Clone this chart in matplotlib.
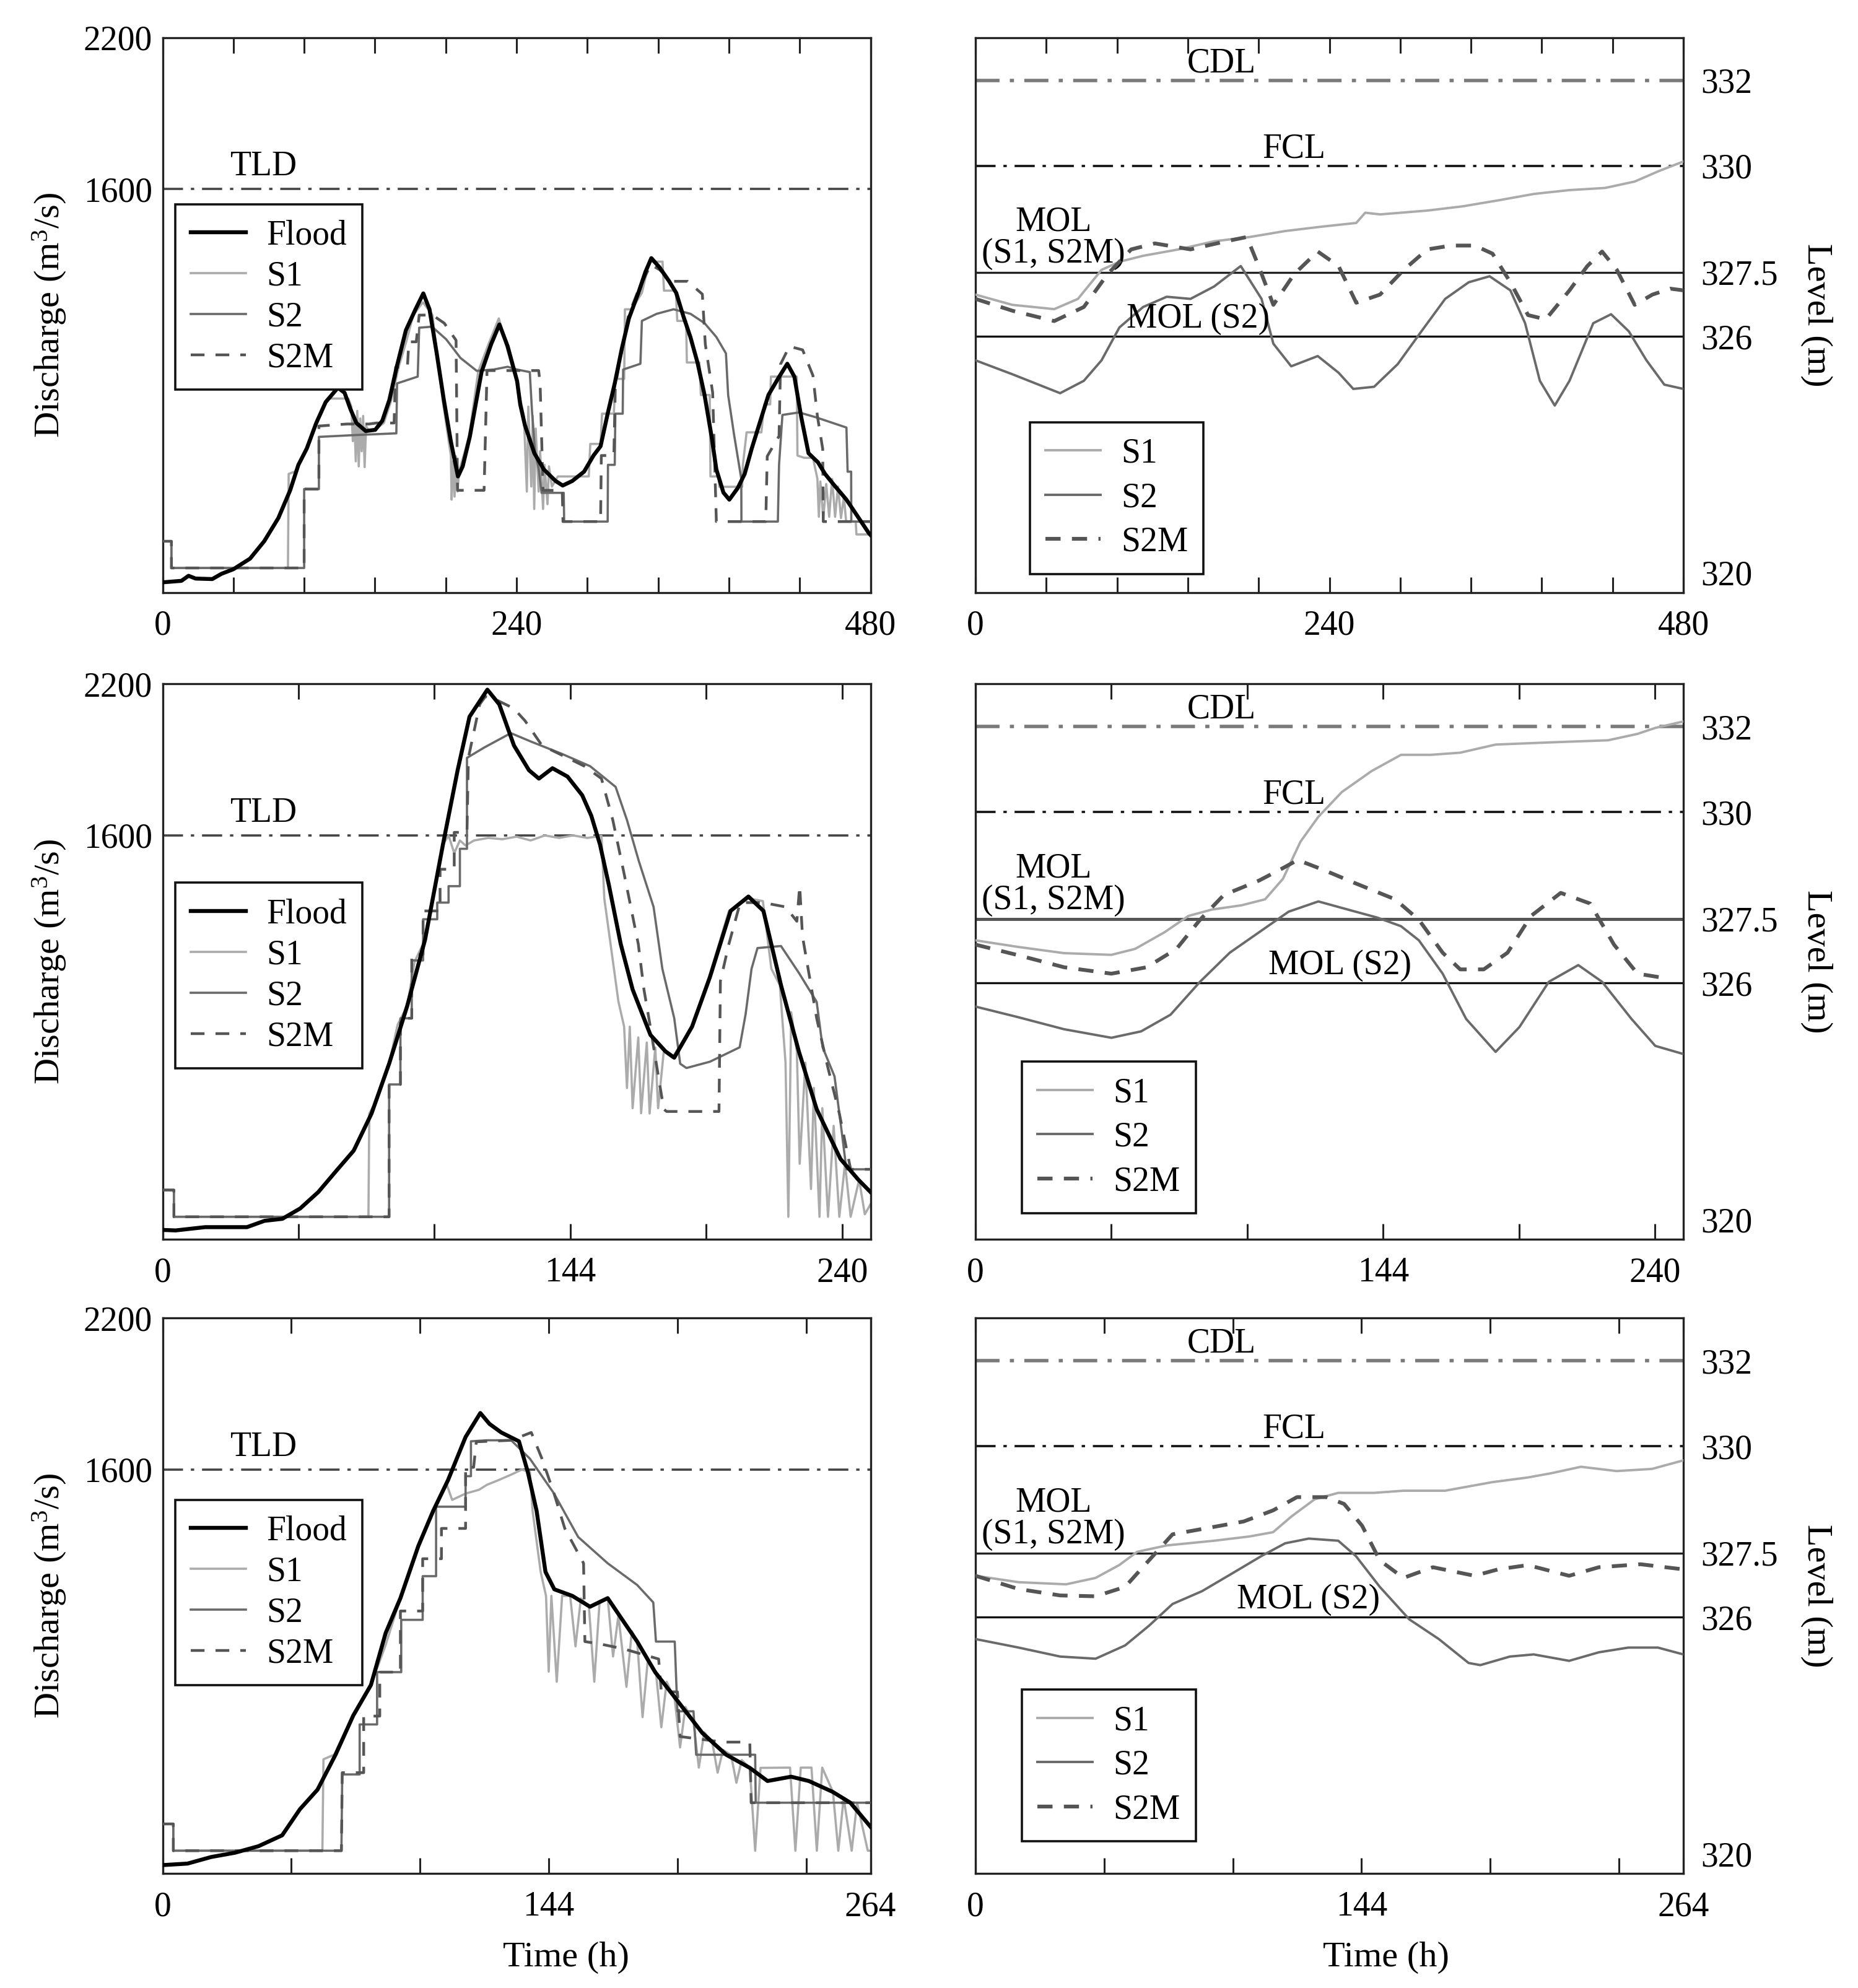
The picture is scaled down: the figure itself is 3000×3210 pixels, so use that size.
import matplotlib
matplotlib.use('Agg')
import matplotlib.pyplot as plt

plt.rcParams['font.family'] = ['Liberation Serif', 'DejaVu Serif']
plt.rcParams['mathtext.fontset'] = 'custom'
plt.rcParams['mathtext.rm'] = 'Liberation Serif'
plt.rcParams['mathtext.it'] = 'Liberation Serif:italic'

# ---------------- data: discharge (t [h], Q [m3/s]) ----------------
flood1 = [(0,40),(12.8,46),(17.6,66),(22.4,55),(33.7,53),(40,74),(48,92),(59.3,134),(68.9,203),(78.5,295),
          (86.5,405),(92.1,506),(97.8,571),(104.2,672),(110.6,755),(118.9,812),(123.4,792),(127.4,727),(131.4,672),(137.8,640),
          (144.2,645),(149,681),(153.8,764),(158.7,893),(165,1040),(171.5,1123),(176.8,1186),(181,1123),(185.9,948),(190.7,764),
          (195.5,598),(200.3,460),(203.5,500),(208.3,617),(216.3,875),(222.8,985),(228.4,1063),(234,976),(240.4,838),(242.5,746),
          (245.7,663),(252.1,552),(258.5,488),(266.5,442),(271.3,424),(277.8,442),(285.8,479),(292.2,543),(297,580),(301.8,709),
          (306.6,829),(311.4,967),(316.2,1087),(322.6,1188),(327.4,1271),(331.4,1326),(337,1289),(343.5,1234),(348.3,1188),(353.1,1096),
          (357.9,1013),(362.7,912),(367.5,783),(372.3,617),(375.5,488),(380.3,396),(384.3,368),(390,414),(394.7,470),(399.5,571),
          (404.4,663),(410.8,783),(417.2,847),(423.6,907),(428.4,856),(433.2,691),(438,552),(444.4,516),(449.2,470),(455.6,424),
          (463.7,368),(470,313),(478.9,235),(480,228)]
s1_1 = [(0,203),(6,203),(6,97),(85,97),(85.5,470),(90,480),(95,540),(100,600),(105,680),(112,769),(126,769),(128,737),
        (129,600),(130,700),(131,520),(132,720),(133,500),(134,690),(135,560),(136,700),(137,497),(138,660),(140,640),(145,650),
        (150,672),(155,760),(160,893),(165,990),(170,1100),(176.5,1151),(183,1100),(186,950),(190,760),(194,600),(195.5,543),
        (196,368),(197,520),(198,380),(199,540),(200,400),(201,480),(205,560),(208,626),(214,875),(221,985),(228,1087),(234,958),
        (240,838),(245,700),(247,400),(248,737),(250,420),(251,700),(252,331),(253,650),(255,400),(256,560),(258,331),(259,506),
        (261,350),(262,500),(264,420),(268,460),(289,460),(290,589),(297,589),(298,709),(306,709),(307,847),(313,847),(313.5,1123),
        (318,1123),(325,1188),(330,1312),(339,1312),(340,1197),(348,1197),(349,1077),(355,1077),(355.5,912),(364,912),(365,783),
        (371,783),(371.5,460),(377,460),(377.5,419),(393,419),(393.5,506),(396,635),(406,635),(408,746),(412,746),(412.5,856),
        (430,856),(430.5,543),(435,534),(441,534),(444,451),(445,300),(446,440),(448,295),(450,430),(452,300),(454,450),
        (456,300),(458,420),(460,295),(462,380),(463.5,281),(470,281),(470.5,230),(480,230)]
s2_1 = [(0,203),(6,203),(6,97),(96,97),(96,410),(106,410),(106,617),(130,624),(158.5,631),(159,829),(173,856),(174,1050),
        (182.7,1054),(192.3,1004),(202,930),(213,879),(224.4,884),(234,895),(240.4,884),(249,874),(250.5,718),(252.5,562),
        (255,490),(257,395),(272,395),(272.3,281),(301.8,281),(302,506),(306.6,506),(307,709),(312,709),(312.3,884),(324,907),
        (325,1077),(335,1105),(346.5,1123),(358,1105),(367.5,1068),(375.5,1013),(382,948),(383.5,783),(387.5,626),(392.4,451),
        (392.5,281),(417.2,281),(418,506),(420.3,704),(431.6,714),(442.8,695),(463.7,654),(464.5,479),(466.9,479),(467,281),(480,281)]
s2m_1 = [(0,203),(6,203),(6,97),(96,97),(96,410),(106,410),(106,660),(125,668),(140,668),(145,672),(157,672),(158,893),
         (166,893),(167,994),(172,994),(174,1100),(183,1100),(191,1068),(199,1000),(200,405),(218,405),(220,880),(255,880),
         (256,829),(258,405),(271,405),(271.5,281),(297,281),(297.5,543),(306,543),(307,820),(312,980),(316,1100),(322,1190),
         (331,1300),(337,1280),(345,1234),(356,1234),(366,1183),(368,985),(373,792),(375.5,281),(409,281),(410,540),(418,620),
         (419,905),(425,976),(434,962),(441,860),(444,700),(447.6,570),(448,281),(480,281)]

flood2 = [(0,38),(4.6,36),(15,49),(29.8,49),(36,74),(42.3,82),(48.6,123),(55,188),(61.2,270),(67.5,352),(73.8,499),
          (80,696),(86.4,925),(92.7,1187),(99,1563),(104.2,1858),(108.4,2070),(114.7,2177),(118.9,2119),(124.1,1956),(129.4,1858),
          (132.9,1825),(137.7,1866),(143,1833),(148.2,1759),(151.4,1678),(154.5,1563),(157.7,1399),(161.8,1170),(166,990),
          (172.3,810),(177.6,745),(180.7,720),(187,843),(193.3,1039),(200.6,1301),(206.9,1358),(212.2,1301),(218.4,1007),
          (224.7,745),(231,516),(239.4,319),(245.7,237),(250,188)]
s1_2 = [(0,196),(4,196),(4,90),(72.7,90),(73,499),(76,560),(80,696),(83,850),(86.4,925),(89,1100),(92.7,1187),(96,1380),
        (99,1563),(101,1600),(103,1530),(105,1580),(107,1560),(110,1580),(115,1590),(120,1585),(125,1595),(130,1580),(135,1600),
        (140,1590),(145,1600),(150,1590),(155,1598),(156,1350),(159,1105),(161,941),(163,843),(164,600),(165,843),(166,520),
        (168,800),(169,500),(171,780),(172,499),(174,760),(175,520),(177,745),(180,720),(187,843),(193,1039),(200,1301),
        (207,1350),(212,1340),(215,1072),(218,1007),(220,700),(221,90),(222,900),(224,745),(225,300),(227,700),(229,200),
        (230,600),(232,90),(233,520),(235,90),(237,450),(239,90),(241,300),(243,90),(246,237),(248,100),(250,139)]
s2_2 = [(0,196),(4,196),(4,90),(80,90),(80,614),(84,614),(84,876),(88,876),(88,1105),(92,1105),(92,1268),(97,1268),
        (97,1334),(101,1334),(101,1399),(105,1399),(105,1547),(107.5,1547),(107.5,1907),(113.6,1948),(123,2005),(130,1972),
        (141,1923),(151,1874),(160,1792),(164,1661),(168.2,1498),(173.4,1317),(176.5,1072),(180.7,876),(182.8,696),(185,679),
        (193.3,704),(203.8,761),(205.9,892),(208,1072),(210.1,1154),(218.4,1162),(224.7,1056),(231,941),(233.1,761),
        (237.3,646),(239.4,466),(241.5,278),(250,278)]
s2m_2 = [(0,196),(4,196),(4,90),(80,90),(80,614),(84,614),(84,876),(88,876),(88,1128),(92,1128),(92,1301),(98,1301),
         (98,1466),(103,1466),(103,1612),(107.5,1612),(108,1907),(112,2119),(114,2150),(118,2136),(124,2103),(128,2054),
         (134,1956),(143,1907),(149,1874),(155,1825),(159,1661),(163,1448),(168,1170),(170,990),(172,859),(177,516),(178,507),
         (196.5,507),(197,1023),(200,1170),(204,1334),(212,1334),(220,1317),(224,1260),(225,1400),(226,1200),(231,876),
         (235,679),(239,499),(243,278),(250,278)]

flood3 = [(0,34),(9.3,40),(18.1,66),(27,83),(35.8,109),(44.6,152),(51.2,255),(57.8,333),(64.5,471),(71.1,626),(77.7,747),
          (83.2,953),(88.7,1091),(95.4,1298),(100.9,1436),(106.4,1557),(113,1729),(118.5,1824),(121.9,1781),(126.3,1747),
          (132.9,1712),(136.2,1591),(139.5,1436),(142.8,1195),(146.1,1126),(152.8,1100),(159.4,1057),(166,1091),(170.4,1022),
          (177,919),(183.7,798),(192.5,678),(201.3,557),(210.2,471),(219,419),(225.6,367),(234.4,384),(241,367),(249.9,324),
          (256.5,281),(264,186)]
s1_3 = [(0,197),(4,197),(4,91),(59.6,91),(60,453),(64,471),(71,626),(77.7,747),(83,900),(88.7,1091),(95.4,1290),(101,1436),
        (106,1540),(108,1480),(113,1505),(118,1520),(121,1540),(125,1557),(130,1580),(134,1600),(137,1590),(138,1436),(141,1195),
        (143,1100),(144,800),(145,1100),(147,760),(149,1100),(152,1100),(154,900),(156,1090),(159,1057),(161,760),(163,1080),
        (166,1091),(168,860),(170,1022),(173,740),(175,960),(177,919),(179,620),(181,850),(184,798),(186,580),(188,760),
        (191,690),(193,500),(195,660),(198,600),(200,420),(202,560),(205,520),(207,400),(209,490),(212,470),(214,360),
        (216,450),(219,419),(221,91),(223,419),(234,420),(236,91),(238,420),(242,420),(244,91),(246,420),(250,324),(252,91),
        (254,300),(257,91),(259,281),(263,91),(264,91)]
s2_3 = [(0,197),(4,197),(4,91),(66.7,91),(67,393),(73.5,393),(73.5,591),(80,591),(80,798),(89,798),(89,1005),(97,1005),
        (97,1178),(102,1178),(102,1453),(113,1453),(113,1574),(115,1574),(115,1712),(121,1716),(130,1716),(137,1643),(146,1505),
        (155,1333),(166,1229),(177,1143),(183,1074),(184,919),(191,919),(192,643),(198,643),(199,471),(221,471),(221.2,281),(264,281)]
s2m_3 = [(0,197),(4,197),(4,91),(66.7,91),(67,400),(75,400),(75,624),(81,624),(81,798),(88.7,798),(88.7,1040),(97,1040),
         (97,1247),(104,1247),(104,1367),(113,1367),(113,1609),(116,1609),(117,1710),(130,1716),(137.5,1747),(141.5,1643),
         (146,1505),(150,1367),(157,1229),(157.5,919),(163,910),(172,890),(185,850),(186,720),(192,720),(193,543),(209,521),
         (219,521),(219.5,281),(264,281)]

# ---------------- data: reservoir level (t [h], Z [m]) ----------------
lev1_s1 = [(0,326.98),(25,326.74),(53.4,326.64),(69.5,326.88),(85.5,327.56),(97.6,327.75),(113.7,327.89),(137.8,328.04),
           (161.8,328.23),(185.9,328.33),(210,328.47),(234,328.57),(258.2,328.66),(264.3,328.9),(274.3,328.86),(306.4,328.95),
           (330.5,329.05),(354.6,329.19),(378.7,329.34),(402.8,329.43),(426.9,329.48),(447,329.63),(463,329.87),(480,330.1)]
lev1_s2 = [(0,325.44),(25.3,325.11),(57.4,324.67),(73.5,324.96),(85.5,325.44),(97.6,326.21),(113.7,326.69),(129.7,326.93),
           (145.8,326.88),(161.8,327.17),(179.9,327.65),(194,326.88),(202,325.83),(214.1,325.3),(232.1,325.54),(246.2,325.15),
           (256.2,324.77),(270.3,324.82),(286.3,325.35),(302.4,326.12),(318.5,326.88),(334.5,327.27),(348.6,327.41),
           (362.7,327.08),(372.7,326.31),(382.7,324.96),(392.8,324.38),(402.8,324.96),(418.9,326.31),(431,326.52),
           (443,326.12),(455,325.44),(467.1,324.87),(480,324.77)]
lev1_s2m = [(0,326.88),(25.3,326.6),(53.4,326.36),(73.5,326.69),(89.6,327.46),(105.6,328.04),(121.7,328.18),(145.8,328.04),
            (169.9,328.23),(184,328.33),(192,327.65),(202,326.74),(216.1,327.46),(232.1,327.99),(246.2,327.65),(258.2,326.79),
            (274.3,326.98),(290.4,327.56),(306.4,328.04),(322.5,328.13),(338.6,328.13),(350.6,327.94),(362.7,327.27),
            (374.7,326.5),(386.7,326.4),(402.8,327.08),(414.9,327.65),(424.9,327.99),(434.9,327.56),(447,326.74),
            (459,326.98),(471.1,327.12),(480,327.08)]

lev2_s1 = [(0,327.0),(14.6,326.85),(31.3,326.7),(48,326.66),(56.4,326.8),(66.8,327.19),(75.2,327.57),(83.5,327.72),(94,327.82),
           (102.3,327.96),(108.6,328.44),(114.8,329.31),(121.1,329.89),(129.4,330.47),(139.9,330.96),(150.3,331.34),
           (160.8,331.34),(171.2,331.39),(183.7,331.58),(202.5,331.63),(223.4,331.68),(233.8,331.83),(240.1,331.97),(250,332.12)]
lev2_s2 = [(0,325.45),(14.6,325.21),(31.3,324.92),(48,324.72),(58.5,324.87),(68.9,325.26),(79.3,326.03),(89.8,326.71),
           (100.2,327.19),(110.6,327.67),(121.1,327.91),(131.5,327.72),(142,327.53),(150.3,327.33),(156.6,327.0),(165,326.22),
           (173.3,325.16),(183.7,324.39),(192.1,324.97),(202.5,326.03),(212.9,326.42),(221.3,326.03),(231.7,325.16),
           (240.1,324.53),(250,324.34)]
lev2_s2m = [(0,326.9),(14.6,326.66),(31.3,326.37),(48,326.22),(60.5,326.37),(71,326.8),(79.3,327.48),(87.7,328.06),
            (100.2,328.4),(108.6,328.69),(113.8,328.88),(123.2,328.64),(133.6,328.35),(148.2,327.96),(156.6,327.48),
            (165,326.71),(171.2,326.32),(179.5,326.32),(187.9,326.71),(196.2,327.57),(206.7,328.11),(217.1,327.86),
            (225.5,326.9),(233.8,326.22),(242.2,326.13),(245,326.13)]

lev3_s1 = [(0,326.97),(16.1,326.82),(33.8,326.77),(44.8,326.92),(53.6,327.22),(60.3,327.53),(71.3,327.68),(89,327.79),
           (102.2,327.89),(111,327.99),(117.7,328.35),(126.5,328.76),(135.3,328.91),(148.6,328.91),(159.6,328.96),(175.1,328.96),
           (192.7,329.16),(206,329.27),(214.8,329.37),(225.8,329.52),(239.1,329.42),(252.3,329.47),(264,329.67)]
lev3_s2 = [(0,325.49),(16.1,325.29),(31.6,325.08),(44.8,325.03),(55.8,325.34),(64.7,325.8),(73.5,326.31),(84.5,326.61),
           (95.6,327.02),(106.6,327.43),(115.5,327.73),(124.3,327.84),(135.3,327.79),(141.9,327.43),(150.8,326.71),
           (161.8,325.95),(172.8,325.49),(183.9,324.93),(188.3,324.88),(199.3,325.08),(208.2,325.13),(221.4,324.98),
           (232.5,325.18),(243.5,325.29),(254.5,325.29),(264,325.13)]
lev3_s2m = [(0,326.97),(16.1,326.66),(31.6,326.51),(44.8,326.49),(55.8,326.71),(64.7,327.33),(73.5,327.94),(86.8,328.09),
            (100,328.24),(111,328.5),(119.9,328.81),(130.9,328.81),(137.5,328.65),(144.2,328.14),(150.8,327.33),(159.6,326.92),
            (170.6,327.17),(186.1,326.97),(194.9,327.12),(206,327.22),(221.4,326.97),(232.5,327.17),(248,327.24),(264,327.12)]

# reference levels
TLD = 1600
CDL, FCL, MOL_S1, MOL_S2 = 332, 330, 327.5, 326
q_ticks = [1600, 2200]
z_ticks = [320, 326, 327.5, 330, 332]
z_tick_labels = ['320', '326', '327.5', '330', '332']
t_max = [480, 250, 264]
t_labels = [[0, 240, 480], [0, 144, 240], [0, 144, 264]]

# ---------------- style ----------------
C_FLOOD, C_S1, C_S2, C_S2M = '#000000', '#ababab', '#6a6a6a', '#555555'
FS = 20
FSL = 21
DASHDOT = (0, (9, 3.5, 1.5, 3.5))

fig = plt.figure(figsize=(15, 16.05), dpi=200)
LX, RX, W = 0.0875, 0.525, 0.381
ROWS = [(0.702, 0.279), (0.3765, 0.2795), (0.0575, 0.2795)]
MOL2_X = [0.315, 0.515, 0.47]


def xy(pairs):
    return [p[0] for p in pairs], [p[1] for p in pairs]


def style_x(ax, tm, labs):
    ticks = list(range(0, tm + 1, 48))
    if tm == 264:
        ticks.append(tm)
    ax.set_xlim(0, tm)
    ax.set_xticks(ticks)
    ax.set_xticklabels([str(t) if t in labs else '' for t in ticks])
    ax.tick_params(axis='x', direction='in', top=True, bottom=True, length=9, width=1.1,
                   labelsize=FS, pad=10, color='#222222')
    for s in ax.spines.values():
        s.set_linewidth(1.2)
        s.set_color('#222222')


def make_legend(ax, handles, anchor, spacing):
    leg = ax.legend(handles=handles, loc='upper left', bbox_to_anchor=anchor,
                    borderaxespad=0, fontsize=FS, frameon=True, fancybox=False, framealpha=1,
                    edgecolor='#111111', handlelength=1.6, handletextpad=0.6, labelspacing=spacing,
                    borderpad=0.45)
    leg.get_frame().set_linewidth(1.3)
    return leg


discharge = [(flood1, s1_1, s2_1, s2m_1), (flood2, s1_2, s2_2, s2m_2), (flood3, s1_3, s2_3, s2m_3)]
levels = [(lev1_s1, lev1_s2, lev1_s2m), (lev2_s1, lev2_s2, lev2_s2m), (lev3_s1, lev3_s2, lev3_s2m)]
leg_left_top = [0.70, 0.642, 0.673]
leg_right_top = [0.307, 0.32, 0.331]
leg_right_x = [0.077, 0.066, 0.066]

for r in range(3):
    y0, h = ROWS[r]
    # ---------- discharge panel ----------
    ax = fig.add_axes([LX, y0, W, h])
    fl, s1, s2, s2m = discharge[r]
    h1, = ax.plot(*xy(s1), color=C_S1, lw=1.3, label='S1', zorder=2)
    h2, = ax.plot(*xy(s2), color=C_S2, lw=1.3, label='S2', zorder=3)
    h3, = ax.plot(*xy(s2m), color=C_S2M, lw=1.6, ls=(0, (5, 4)), label='S2M', zorder=4)
    h0, = ax.plot(*xy(fl), color=C_FLOOD, lw=2.3, label='Flood', zorder=5)
    ax.axhline(TLD, color='#444444', lw=1.3, ls=DASHDOT, zorder=1)
    ax.text(0.143, TLD + 25, 'TLD', transform=ax.get_yaxis_transform(), ha='center', va='bottom', fontsize=FS)
    ax.set_ylim(0, 2200)
    ax.set_yticks(q_ticks)
    ax.set_yticklabels([str(v) for v in q_ticks])
    ax.tick_params(axis='y', length=0, labelsize=FS, pad=6)
    style_x(ax, t_max[r], t_labels[r])
    ax.set_ylabel('Discharge (m$^3$/s)', fontsize=FSL, labelpad=9)
    make_legend(ax, [h0, h1, h2, h3], (0.018, leg_left_top[r]), 0.25)
    if r == 2:
        ax.set_xlabel('Time (h)', fontsize=FSL)
        ax.xaxis.set_label_coords(0.57, -0.122)

    # ---------- level panel ----------
    ax2 = fig.add_axes([RX, y0, W, h])
    l1, l2, l3 = levels[r]
    g1, = ax2.plot(*xy(l1), color=C_S1, lw=1.4, label='S1', zorder=3)
    g2, = ax2.plot(*xy(l2), color=C_S2, lw=1.4, label='S2', zorder=3)
    g3, = ax2.plot(*xy(l3), color=C_S2M, lw=2.2, ls=(0, (4, 3)), label='S2M', zorder=4)
    ax2.axhline(CDL, color='#7a7a7a', lw=2.0, ls=(0, (7, 3, 1.2, 3)), zorder=1)
    ax2.axhline(FCL, color='#111111', lw=1.3, ls=DASHDOT, zorder=1)
    ax2.axhline(MOL_S1, color='#222222' if r != 1 else '#555555', lw=1.2 if r != 1 else 1.8, zorder=1)
    ax2.axhline(MOL_S2, color='#111111', lw=1.2, zorder=1)
    tr = ax2.get_yaxis_transform()
    ax2.text(0.348, CDL + 0.02, 'CDL', transform=tr, ha='center', va='bottom', fontsize=FS)
    ax2.text(0.45, FCL + 0.02, 'FCL', transform=tr, ha='center', va='bottom', fontsize=FS)
    ax2.text(0.11, MOL_S1 + 0.05, 'MOL\n(S1, S2M)', transform=tr, ha='center', va='bottom', fontsize=FS,
             linespacing=1.0)
    ax2.text(MOL2_X[r], MOL_S2 + 0.03, 'MOL (S2)', transform=tr, ha='center', va='bottom', fontsize=FS)
    ax2.set_ylim(320, 333)
    ax2.yaxis.tick_right()
    ax2.set_yticks(z_ticks)
    ax2.set_yticklabels(z_tick_labels)
    ax2.tick_params(axis='y', length=0, labelsize=FS, pad=10)
    ax2.get_yticklabels()[0].set_verticalalignment('bottom')
    style_x(ax2, t_max[r], t_labels[r])
    ax2.yaxis.set_label_position('right')
    ax2.set_ylabel('Level (m)', fontsize=FSL, rotation=270, labelpad=32)
    make_legend(ax2, [g1, g2, g3], (leg_right_x[r], leg_right_top[r]), 0.35)
    if r == 2:
        ax2.set_xlabel('Time (h)', fontsize=FSL)
        ax2.xaxis.set_label_coords(0.58, -0.122)

fig.savefig('out.png', dpi=200, facecolor='white')
